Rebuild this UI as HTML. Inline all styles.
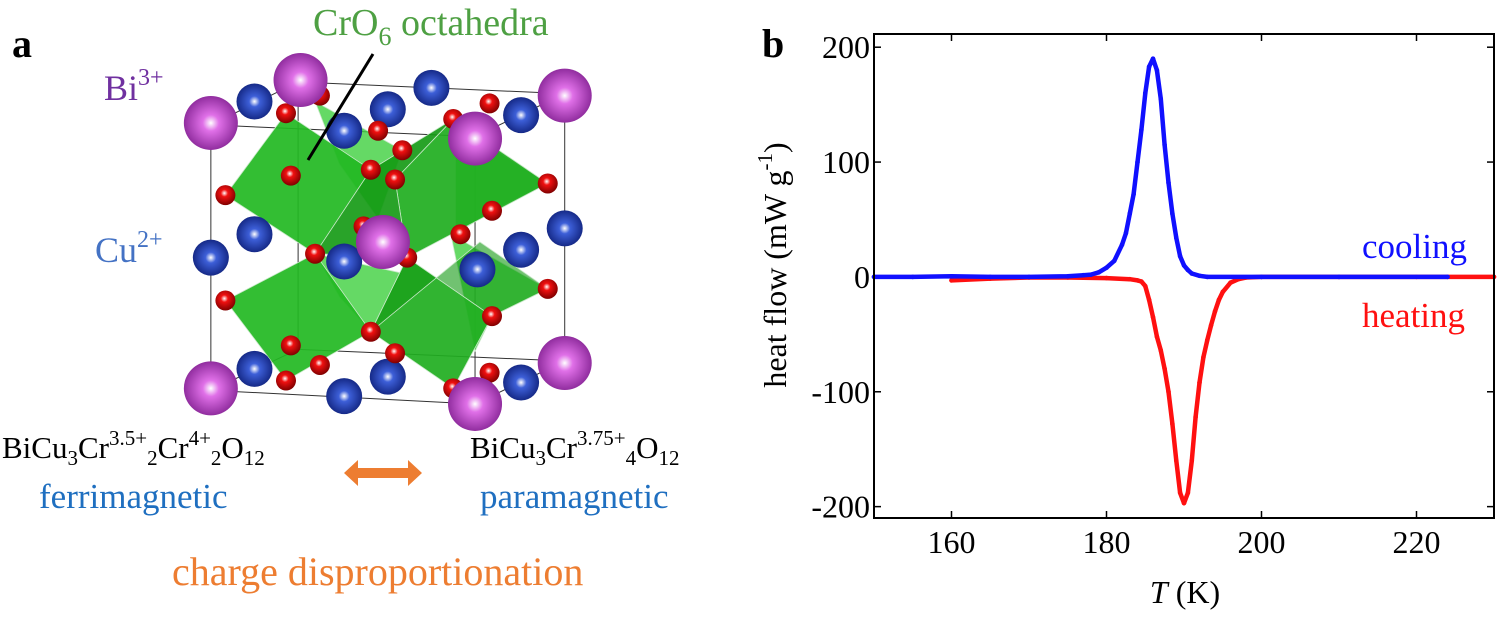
<!DOCTYPE html>
<html><head><meta charset="utf-8"><style>
html,body{margin:0;padding:0;background:#fff;}
svg, svg text, svg tspan{font-family:"Liberation Serif","DejaVu Serif",serif;}
</style></head><body>
<svg id="root" width="1498" height="612" viewBox="0 0 1498 612" xmlns="http://www.w3.org/2000/svg" font-family="Liberation Serif, DejaVu Serif, serif">
<defs>
<radialGradient id="gBi" cx="0.5" cy="0.5" r="0.6"><stop offset="0" stop-color="#fff"/><stop offset="0.25" stop-color="#e070e8"/><stop offset="1" stop-color="#7a1a8a"/></radialGradient>
<radialGradient id="gCu" cx="0.5" cy="0.5" r="0.6"><stop offset="0" stop-color="#fff"/><stop offset="0.25" stop-color="#3d5fd8"/><stop offset="1" stop-color="#0a1a70"/></radialGradient>
<radialGradient id="gO" cx="0.45" cy="0.4" r="0.6"><stop offset="0" stop-color="#fff"/><stop offset="0.3" stop-color="#f01010"/><stop offset="1" stop-color="#800000"/></radialGradient>
</defs>
<g id="panelA">
<text x="12" y="57" font-size="40" font-weight="bold">a</text>
<g id="crystal"></g>
<line x1="373" y1="54" x2="308" y2="160" stroke="#000" stroke-width="3"/>
<text x="313" y="35" font-size="38" fill="#4ea043">CrO<tspan font-size="26" dy="10">6</tspan><tspan dy="-10"> octahedra</tspan></text>
<text x="104" y="100" font-size="36" fill="#7030a0">Bi<tspan font-size="24" dy="-15">3+</tspan></text>
<text x="95" y="262" font-size="36" fill="#4472c4">Cu<tspan font-size="24" dy="-15">2+</tspan></text>
<text x="2" y="458" font-size="31" fill="#000">BiCu<tspan font-size="21" dy="7">3</tspan><tspan dy="-7">Cr</tspan><tspan font-size="21" dy="-13">3.5+</tspan><tspan font-size="21" dy="20">2</tspan><tspan dy="-7">Cr</tspan><tspan font-size="21" dy="-13">4+</tspan><tspan font-size="21" dy="20">2</tspan><tspan dy="-7">O</tspan><tspan font-size="21" dy="7">12</tspan></text>
<text x="470" y="458" font-size="31" fill="#000">BiCu<tspan font-size="21" dy="7">3</tspan><tspan dy="-7">Cr</tspan><tspan font-size="21" dy="-13">3.75+</tspan><tspan font-size="21" dy="20">4</tspan><tspan dy="-7">O</tspan><tspan font-size="21" dy="7">12</tspan></text>
<text x="39" y="508" font-size="35" fill="#1f6fc0">ferrimagnetic</text>
<text x="480" y="508" font-size="35" fill="#1f6fc0">paramagnetic</text>
<polygon points="344,473 358,460 358,468 408,468 408,460 422,473 408,486 408,478 358,478 358,486" fill="#ed7d31"/>
<text x="172" y="585" font-size="40" fill="#ed7d31">charge disproportionation</text>
</g>
<g id="panelB">
<text x="762" y="57" font-size="40" font-weight="bold">b</text>
<g id="chart"></g>
</g>
</svg>
<script>
// ---- chart data ----
const xTicks = [160, 180, 200, 220];
const yTicks = [200, 100, 0, -100, -200];
const yTickLabels = ["200", "100", "0", "-100", "-200"];
const coolingT = [150,155,160,165,170,175,177,178,179,180,181,182,182.5,183,183.5,184,184.5,185,185.5,186,186.5,187,187.5,188,188.5,189,189.5,190,190.5,191,192,193,200,210,224];
const coolingQ = [0,0,0.5,0,0,0.5,1.5,2,4,8,14,28,38,55,72,100,128,160,183,190,180,155,115,82,55,34,18,10,6,3,1,0,0,0,0];
const heatingT = [160,165,170,175,180,183,184,184.5,185,185.5,186,186.5,187,187.5,188,188.5,189,189.5,190,190.5,191,191.5,192,192.5,193,193.5,194,194.5,195,196,197,198,200,210,220,230];
const heatingQ = [-3,-1.5,-0.5,-0.5,-1,-2,-3,-4,-8,-20,-35,-52,-64,-80,-100,-128,-160,-188,-197,-188,-160,-122,-92,-70,-55,-42,-30,-20,-13,-5,-2,-0.5,0,0,0,0];

const NS = "http://www.w3.org/2000/svg";
const L = 874, R = 1494, T = 34, B = 518;
const xMin = 150, xMax = 230, yMin = -209.9, yMax = 211.5;
function sx(v){ return L + (v - xMin) / (xMax - xMin) * (R - L); }
function sy(v){ return B - (v - yMin) / (yMax - yMin) * (B - T); }
function mk(tag, attrs, parent){ const e = document.createElementNS(NS, tag); for (const k in attrs) e.setAttribute(k, attrs[k]); parent.appendChild(e); return e; }
const chart = document.getElementById('chart');

xTicks.forEach(t => {
  const tb = mk('line', {x1:sx(t), x2:sx(t), y1:B, y2:B-7, stroke:'#000', 'stroke-width':1.5}, chart);
  
  
  const tt = mk('line', {x1:sx(t), x2:sx(t), y1:T, y2:T+7, stroke:'#000', 'stroke-width':1.5}, chart);
  
  
  const lb = mk('text', {x:sx(t), y:553, 'font-size':32, 'text-anchor':'middle'}, chart);
  lb.textContent = String(t);
  
  
});
yTicks.forEach((t, i) => {
  const tl = mk('line', {x1:L, x2:L+7, y1:sy(t), y2:sy(t), stroke:'#000', 'stroke-width':1.5}, chart);
  
  
  const tr = mk('line', {x1:R, x2:R-7, y1:sy(t), y2:sy(t), stroke:'#000', 'stroke-width':1.5}, chart);
  
  
  const lb = mk('text', {x:L-4, y:sy(t)+11, 'font-size':32, 'text-anchor':'end'}, chart);
  lb.textContent = yTickLabels[i];
  
  
});

function series(xs, ys, color, name){
  const d = xs.map((x, i) => (i ? 'L' : 'M') + sx(x).toFixed(1) + ',' + sy(ys[i]).toFixed(1)).join(' ');
  const p = mk('path', {d:d, fill:'none', stroke:color, 'stroke-width':4.5, 'stroke-linejoin':'round', 'stroke-linecap':'round'}, chart);
  
  
  xs.forEach((x, i) => {
    const c = mk('circle', {cx:sx(x), cy:sy(ys[i]), r:2.3, fill:color}, chart);
    
    
  });
}
series(heatingT, heatingQ, '#ff1010', 'heating');
series(coolingT, coolingQ, '#1010ff', 'cooling');

const frame = mk('rect', {x:L, y:T, width:R-L, height:B-T, fill:'none', stroke:'#000', 'stroke-width':2}, chart);



const cl = mk('text', {x:1362, y:258, 'font-size':35, fill:'#1010ff'}, chart);
cl.textContent = 'cooling';


const hl = mk('text', {x:1362, y:327, 'font-size':35, fill:'#ff1010'}, chart);
hl.textContent = 'heating';



const xt = mk('text', {x:1185, y:603, 'font-size':32, 'text-anchor':'middle'}, chart);
xt.innerHTML = '<tspan font-style="italic">T</tspan> (K)';


const yt = mk('text', {x:0, y:0, 'font-size':32, 'text-anchor':'middle', transform:'translate(786,265) rotate(-90)'}, chart);
yt.innerHTML = 'heat flow (mW g<tspan font-size="21" dy="-14">-1</tspan><tspan dy="14">)</tspan>';



// ---- crystal illustration ----
const cr = document.getElementById('crystal');
const S = (x, y) => [x/2.063, y/2.562];
function poly(pts, fill, op, name){
  const p = mk('polygon', {points: pts.map(q => S(q[0], q[1]).map(v => v.toFixed(1)).join(',')).join(' '), fill:fill, 'fill-opacity':op, stroke:'#c8e8c8', 'stroke-width':0.8}, cr);
  
  
}
const cellLines = [[[435,320],[980,350]],[[435,320],[435,1000]],[[980,350],[980,1035]],[[435,1000],[980,1035]],[[615,210],[1165,240]],[[1165,240],[1165,925]],[[615,210],[435,320]],[[1165,240],[980,350]],[[1165,925],[980,1035]],[[615,895],[1165,925]],[[615,210],[615,895]],[[615,895],[435,1000]]];
cellLines.forEach(l => {
  const a = S(...l[0]), b = S(...l[1]);
  const e = mk('line', {x1:a[0], y1:a[1], x2:b[0], y2:b[1], stroke:'#333', 'stroke-width':1}, cr);
  
  
});
poly([[650,260],[830,385],[780,560],[700,420]], '#3ecf3e', 0.8, 'octahedron-back');
poly([[940,320],[1130,470],[1015,540],[940,600]], '#3ecf3e', 0.8, 'octahedron-back');
poly([[930,600],[1130,740],[1015,810],[980,900]], '#3ecf3e', 0.8, 'octahedron-back');
poly([[650,650],[830,700],[765,850],[700,760]], '#3ecf3e', 0.8, 'octahedron-back');
poly([[590,290],[765,435],[650,650],[465,500]], '#22b822', 0.92, 'octahedron');
poly([[935,305],[1130,470],[840,660],[815,460]], '#1fae1f', 0.92, 'octahedron');
poly([[650,650],[765,850],[590,975],[465,770]], '#22b822', 0.92, 'octahedron');
poly([[840,660],[1015,810],[935,995],[765,850]], '#1fae1f', 0.92, 'octahedron');
poly([[765,435],[935,305],[815,460],[840,660],[650,650]], '#129912', 0.9, 'octahedron');
poly([[765,850],[840,660],[1015,810],[1130,740],[990,620]], '#129912', 0.6, 'octahedron');
function atom(x, y, r, g, name){
  const p = S(x, y);
  const c = mk('circle', {cx:p[0], cy:p[1], r:r, fill:'url(#' + g + ')'}, cr);
  
  
}
[[525,260],[890,225],[800,280],[710,335],[1075,295],[525,600],[435,660],[1165,585],[710,670],[1075,640],[985,690],[525,945],[800,965],[710,1015],[1075,980]].forEach(a => atom(a[0], a[1], 18, 'gCu', 'cu-atom'));
[[660,245],[590,290],[1010,265],[935,305],[600,450],[765,435],[815,460],[465,500],[1130,470],[1015,540],[650,650],[840,660],[465,770],[1130,740],[1015,810],[600,885],[765,850],[815,905],[590,975],[1010,955],[660,935],[935,995],[830,385],[780,335],[750,580],[950,600]].forEach(a => atom(a[0], a[1], 10, 'gO', 'o-atom'));
[[620,205],[1165,245],[435,315],[980,355],[435,995],[1165,930],[980,1035],[790,620]].forEach(a => atom(a[0], a[1], 27, 'gBi', 'bi-atom'));
</script>
</body></html>
